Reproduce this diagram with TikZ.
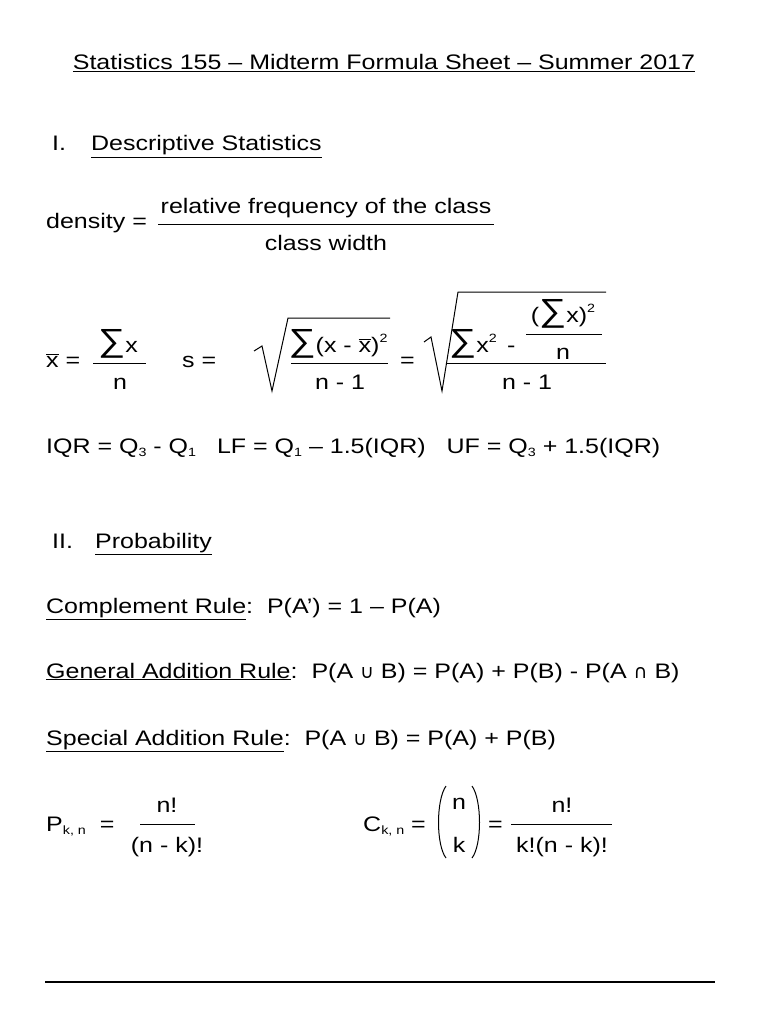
\documentclass[tikz,border=0pt]{standalone}
\usepackage{fontspec}
\setmainfont[FakeStretch=1.19]{Liberation Sans}
\newfontfamily\djv{DejaVu Sans}
\newcommand{\xb}{\ensuremath{\overline{\hbox{x}}}}
\newcommand{\sbs}[1]{\raisebox{-0.35ex}{\fontsize{12}{12}\selectfont #1}}
\newcommand{\sps}[1]{\raisebox{0.9ex}{\fontsize{12}{12}\selectfont #1}}
\newcommand{\bsum}{{\fontsize{32}{32}\selectfont\raisebox{0.05ex}{∑}}}
\newcommand{\mycup}{{\djv\fontsize{19}{19}\selectfont ∪}}
\newcommand{\mycap}{{\djv\fontsize{19}{19}\selectfont ∩}}
\begin{document}
\begin{tikzpicture}[x=1pt,y=-1pt,
  t/.style={anchor=base west,inner sep=0pt,font=\fontsize{21}{25}\selectfont},
  tc/.style={anchor=base,inner sep=0pt,font=\fontsize{21}{25}\selectfont},
  ln/.style={line width=1pt}]
\useasboundingbox (0,0) rectangle (768,1024);
\node[tc] (title) at (384,70) {\underline{Statistics 155 – Midterm Formula Sheet – Summer 2017}};
\node[t] (s1) at (52,151) {I.};
\node[t] (s1t) at (91,151) {\underline{Descriptive Statistics}};
% density
\node[t] (den) at (46,229) {density =};
\node[tc] (dnum) at (326,214) {relative frequency of the class};
\draw[ln] (158,225) -- (494,225);
\node[tc] (dden) at (326,250) {class width};
% mean
\node[t] (xbar) at (46,367) {\xb\ =};
\node[tc] (mnum) at (118,352) {\bsum x};
\draw[ln] (93,363) -- (146,363);
\node[tc] (mden) at (120,389) {n};
% s
\node[t] (s) at (182,367) {s =};
\draw[ln] (254,351) -- (262,346) -- (272,391) -- (288,318) -- (390,318);
\node[tc] (snum) at (338,352) {\bsum(x - \xb)\sps{2}};
\draw[ln] (291,363) -- (388,363);
\node[tc] (sden) at (340,389) {n - 1};
\node[t] (eq2) at (400,367) {=};
\draw[ln] (424,342) -- (431,337) -- (442,391) -- (458,292) -- (606,292);
\node[t] (s2a) at (449,352) {\bsum x\sps{2}\, -};
\node[tc] (s2b) at (563,322) {(\bsum x)\sps{2}};
\draw[ln] (526,334) -- (602,334);
\node[tc] (s2c) at (563,359) {n};
\draw[ln] (446,363) -- (606,363);
\node[tc] (s2d) at (527,389) {n - 1};
% IQR
\node[t] (iqr) at (46,453) {IQR = Q\sbs{3} - Q\sbs{1}\quad LF = Q\sbs{1} – 1.5(IQR)\quad UF = Q\sbs{3} + 1.5(IQR)};
% probability
\node[t] (s2) at (52,548) {II.};
\node[t] (s2t) at (95,548) {\underline{Probability}};
\node[t] (cr) at (46,613) {\underline{Complement Rule}:\ \ P(A’) = 1 – P(A)};
\node[t] (gar) at (46,678) {\underline{General Addition Rule}:\ \ P(A \mycup\ B) = P(A) + P(B) - P(A \mycap\ B)};
\node[t] (sar) at (46,745) {\underline{Special Addition Rule}:\ \ P(A \mycup\ B) = P(A) + P(B)};
% perms
\node[t] (pkn) at (46,831) {P\sbs{k, n}\ \ =};
\node[tc] (pnum) at (167,812) {n!};
\draw[ln] (140,824) -- (195,824);
\node[tc] (pden) at (167,852) {(n - k)!};
\node[t] (ckn) at (363,831) {C\sbs{k, n}\ =};
\draw[ln] (446,786) .. controls (436,800) and (436,845) .. (446,858);
\draw[ln] (472,786) .. controls (482,800) and (482,845) .. (472,858);
\node[tc] (cn) at (459,809) {n};
\node[tc] (ck) at (459,852) {k};
\node[t] (ceq) at (488,831) {=};
\node[tc] (cnum) at (562,812) {n!};
\draw[ln] (511,824) -- (612,824);
\node[tc] (cden) at (562,852) {k!(n - k)!};
\draw[line width=1.6pt] (45,982) -- (715,982);
\end{tikzpicture}
\end{document}
